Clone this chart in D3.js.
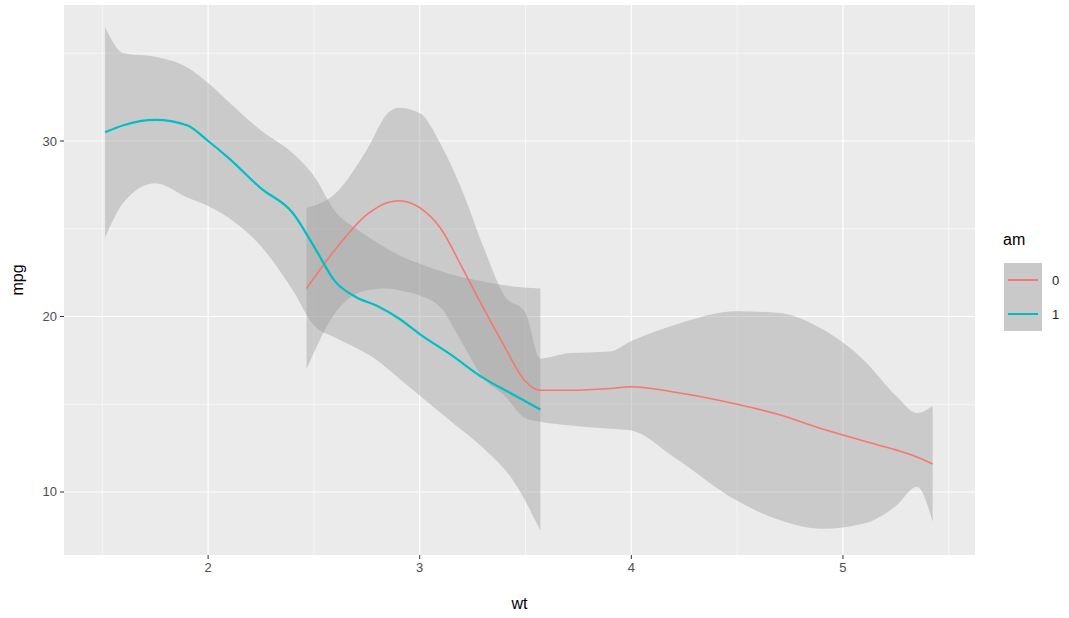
<!DOCTYPE html>
<html><head><meta charset="utf-8">
<script src="https://cdn.jsdelivr.net/npm/d3@7"></script>
<style>body{margin:0;background:#fff}text{font-family:"Liberation Sans",Arial,sans-serif}</style>
</head><body><svg width="1069" height="618"></svg>
<script>
// smooth fits: [wt, fit, lower, upper]
var am0 = [
  [2.465,21.6,17.0,26.2],[2.6,23.8,20.2,27.0],[2.75,25.8,21.5,29.5],[2.85,26.5,21.6,31.6],
  [2.9,26.6,21.5,31.9],[3.0,26.2,21.2,31.6],[3.1,25.0,20.5,29.8],[3.2,22.8,18.5,27.2],
  [3.3,20.5,16.5,24.0],[3.4,18.3,15.5,21.2],[3.5,16.3,14.2,20.2],[3.57,15.8,14.0,17.6],
  [3.7,15.8,13.8,17.9],[3.9,15.9,13.6,18.0],[4.0,16.0,13.5,18.6],[4.2,15.7,12.0,19.5],
  [4.5,15.0,9.5,20.3],[4.7,14.4,8.4,20.2],[4.9,13.6,7.9,19.3],[5.1,12.9,8.2,17.5],
  [5.25,12.4,9.2,15.5],[5.35,12.0,10.3,14.5],[5.424,11.6,8.3,14.9]
]
var am1 = [
  [1.513,30.5,24.5,36.5],[1.6,30.9,26.5,35.0],[1.75,31.2,27.6,34.8],[1.9,30.9,26.8,34.2],
  [2.0,30.0,26.3,33.3],[2.1,29.0,25.6,32.2],[2.25,27.3,24.0,30.6],[2.4,25.9,21.5,29.3],
  [2.5,24.0,19.5,28.0],[2.6,22.0,18.8,26.0],[2.7,21.1,18.2,25.0],[2.8,20.6,17.5,24.2],
  [2.9,19.9,16.5,23.5],[3.0,19.0,15.5,23.0],[3.15,17.8,14.0,22.4],[3.3,16.5,12.5,22.0],
  [3.45,15.5,10.5,21.7],[3.57,14.7,7.8,21.6]
]
var groups = ['0', '1']
var colors = ['#F8766D', '#00BFC4']
var xTicks = [2, 3, 4, 5]
var yTicks = [10, 20, 30]

var svg = d3.select('svg')
var L = 64, R = 975, T = 5, B = 555
var x = d3.scaleLinear().domain([1.319, 5.624]).range([L, R])
var y = d3.scaleLinear().domain([6.41, 37.75]).range([B, T])

svg.append('rect').attr('x', L).attr('y', T).attr('width', R - L).attr('height', B - T).attr('fill', '#ebebeb')
var minorX = xTicks.slice(0, -1).map(d => d + .5).concat([1.5, 5.5])
var minorY = yTicks.slice(0, -1).map(d => d + 5).concat([35])
minorX.forEach(d => svg.append('line').attr('x1', x(d)).attr('x2', x(d)).attr('y1', T).attr('y2', B).attr('stroke', '#fff').attr('stroke-width', .6))
minorY.forEach(d => svg.append('line').attr('x1', L).attr('x2', R).attr('y1', y(d)).attr('y2', y(d)).attr('stroke', '#fff').attr('stroke-width', .6))
xTicks.forEach(d => svg.append('line').attr('x1', x(d)).attr('x2', x(d)).attr('y1', T).attr('y2', B).attr('stroke', '#fff').attr('stroke-width', 1.2))
yTicks.forEach(d => svg.append('line').attr('x1', L).attr('x2', R).attr('y1', y(d)).attr('y2', y(d)).attr('stroke', '#fff').attr('stroke-width', 1.2))

var area = d3.area().curve(d3.curveMonotoneX).x(d => x(d[0])).y0(d => y(d[2])).y1(d => y(d[3]))
var line = d3.line().curve(d3.curveMonotoneX).x(d => x(d[0])).y(d => y(d[1]))
;[am0, am1].forEach(s => svg.append('path').attr('d', area(s)).attr('fill', '#999').attr('fill-opacity', .4))
;[am0, am1].forEach((s, i) => svg.append('path').attr('d', line(s)).attr('fill', 'none').attr('stroke', colors[i]).attr('stroke-width', i ? 2.2 : 1.6))

xTicks.forEach(d => {
  svg.append('line').attr('x1', x(d)).attr('x2', x(d)).attr('y1', B).attr('y2', B + 4).attr('stroke', '#333')
  svg.append('text').attr('x', x(d)).attr('y', B + 17).attr('text-anchor', 'middle').attr('font-size', 13).attr('fill', '#4d4d4d').text(d)
})
yTicks.forEach(d => {
  svg.append('line').attr('x1', L - 4).attr('x2', L).attr('y1', y(d)).attr('y2', y(d)).attr('stroke', '#333')
  svg.append('text').attr('x', L - 7).attr('y', y(d) + 4.5).attr('text-anchor', 'end').attr('font-size', 13).attr('fill', '#4d4d4d').text(d)
})
svg.append('text').attr('x', (L + R) / 2).attr('y', 609).attr('text-anchor', 'middle').attr('font-size', 16).text('wt')
svg.append('text').attr('transform', 'translate(23,' + (T + B) / 2 + ') rotate(-90)').attr('text-anchor', 'middle').attr('font-size', 16).text('mpg')

svg.append('text').attr('x', 1003).attr('y', 245).attr('font-size', 16).text('am')
groups.forEach((g, i) => {
  var ky = 263 + i * 34
  svg.append('rect').attr('x', 1004).attr('y', ky).attr('width', 38).attr('height', 34).attr('fill', '#c9c9c9')
  svg.append('line').attr('x1', 1008).attr('x2', 1038).attr('y1', ky + 17).attr('y2', ky + 17).attr('stroke', colors[i]).attr('stroke-width', 2)
  svg.append('text').attr('x', 1052).attr('y', ky + 22).attr('font-size', 13).attr('fill', '#222').text(g)
})
</script></body></html>
